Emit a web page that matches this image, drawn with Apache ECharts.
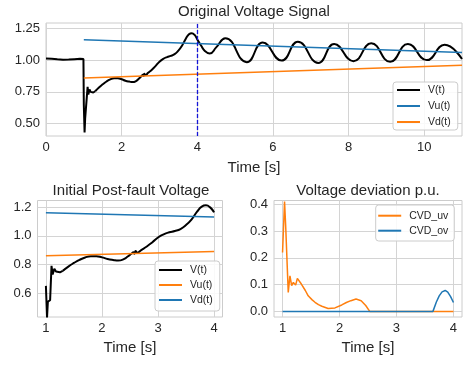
<!DOCTYPE html>
<html><head><meta charset="utf-8">
<script src="https://cdn.jsdelivr.net/npm/echarts@6/dist/echarts.min.js"></script>
<style>html,body{margin:0;padding:0;background:#fff}#c{width:474px;height:367px}</style>
</head><body><div id="c"></div>
<script>
// ---- data ----
const faultT = [0, 0.15, 0.3, 0.45, 0.6, 0.75, 0.9, 0.99, 1.0, 1.02, 1.035, 1.055, 1.075, 1.09, 1.1, 1.12, 1.15, 1.18, 1.21, 1.25, 1.3];
const faultV = [1.012, 1.01, 1.006, 1.003, 1.004, 1.007, 1.01, 1.008, 0.65, 0.43, 0.54, 0.548, 0.55, 0.55, 0.79, 0.73, 0.77, 0.75, 0.762, 0.745, 0.755];
const postT = [1.3, 1.4, 1.5, 1.6, 1.7, 1.8, 1.9, 2.0, 2.1, 2.2, 2.29, 2.38, 2.46, 2.53, 2.56, 2.58, 2.6, 2.63, 2.7, 2.8, 2.9, 3.0, 3.1, 3.2, 3.3, 3.4, 3.5, 3.6, 3.7, 3.78, 3.855, 3.93, 4.0, 4.1, 4.2, 4.33, 4.5, 4.74, 5.31, 5.73, 6.23, 6.66, 7.2, 7.62, 8.13, 8.6, 9.1, 9.57, 10.07, 10.54, 11.0];
const postV = [0.755, 0.785, 0.81, 0.832, 0.848, 0.857, 0.857, 0.849, 0.838, 0.831, 0.827, 0.835, 0.855, 0.876, 0.885, 0.875, 0.893, 0.882, 0.9, 0.925, 0.955, 0.988, 1.01, 1.024, 1.033, 1.047, 1.075, 1.115, 1.17, 1.203, 1.212, 1.198, 1.163, 1.115, 1.072, 1.052, 1.1, 1.173, 0.984, 1.138, 0.996, 1.145, 0.978, 1.127, 0.992, 1.132, 0.987, 1.127, 1.0, 1.12, 1.008];
const boundT = [1, 11];
const vuTop = [1.16, 1.06];
const vdTop = [0.86, 0.96];
const zoomBoundT = [1, 4];
const vuZoom = [0.86, 0.89];   // orange, labelled Vu(t)
const vdZoom = [1.16, 1.13];   // blue, labelled Vd(t)
const cvdUvT = [1.0, 1.035, 1.055, 1.09, 1.1, 1.13, 1.16, 1.19, 1.23, 1.26, 1.33, 1.4, 1.45, 1.52, 1.57, 1.63, 1.69, 1.8, 1.92, 2.04, 2.12, 2.2, 2.29, 2.38, 2.46, 2.53, 2.58, 2.6, 2.62, 3.0, 3.5, 4.0];
const cvdUvV = [0.22, 0.41, 0.319, 0.313, 0.071, 0.133, 0.096, 0.108, 0.098, 0.123, 0.102, 0.078, 0.058, 0.043, 0.034, 0.025, 0.019, 0.011, 0.013, 0.024, 0.033, 0.04, 0.046, 0.04, 0.022, 0.0, 0.0, 0.006, 0.0, 0.0, 0.0, 0.0];
const cvdOvT = [1.0, 3.64, 3.7, 3.75, 3.8, 3.855, 3.9, 3.95, 4.0];
const cvdOvV = [0.0, 0.0, 0.035, 0.058, 0.073, 0.078, 0.072, 0.055, 0.033];
const markerX = [4];
const topXTicks = [0, 2, 4, 6, 8, 10];
const topYTicks = [0.5, 0.75, 1.0, 1.25];
const zoomXTicks = [1, 2, 3, 4];
const zoomYTicks = [0.6, 0.8, 1.0, 1.2];
const devYTicks = [0.0, 0.1, 0.2, 0.3, 0.4];

// ---- styling ----
const FONT = 'Liberation Sans, Arial, sans-serif';
const TXT = '#262626';
const GRIDC = '#d4d4d4';
const BLUE = '#1f77b4', ORANGE = '#ff7f0e';
const pairs = (xs, ys) => xs.map((x, i) => [x, ys[i]]);

function xAx(g, min, max, ticks, gap) {
  return {
    type: 'value', gridIndex: g, min: min, max: max,
    axisLine: { show: false },
    axisTick: { show: false, customValues: ticks },
    axisLabel: { customValues: ticks, color: TXT, fontSize: 13, fontFamily: FONT, margin: 5, formatter: v => String(v) },
    splitLine: { show: true, lineStyle: { color: GRIDC, width: 1 } },
    name: 'Time [s]', nameLocation: 'middle', nameGap: gap,
    nameTextStyle: { color: TXT, fontSize: 15, fontFamily: FONT }
  };
}
function yAx(g, min, max, ticks, dec) {
  return {
    type: 'value', gridIndex: g, min: min, max: max,
    axisLine: { show: false },
    axisTick: { show: false, customValues: ticks },
    axisLabel: { customValues: ticks, color: TXT, fontSize: 13, fontFamily: FONT, margin: 6, formatter: v => v.toFixed(dec) },
    splitLine: { show: true, lineStyle: { color: GRIDC, width: 1 } }
  };
}
function line(name, xi, data, color, width, smooth) {
  return {
    type: 'line', name: name, xAxisIndex: xi, yAxisIndex: xi, data: data,
    symbol: 'none', smooth: smooth || false, animation: false,
    lineStyle: { color: color, width: width }, itemStyle: { color: color }
  };
}
const legendBase = {
  orient: 'vertical', backgroundColor: 'rgba(255,255,255,0.85)', borderColor: '#cccccc',
  borderWidth: 1, borderRadius: 3, itemWidth: 23, itemHeight: 2, selectedMode: false, icon: 'rect',
  textStyle: { color: TXT, fontSize: 10.5, fontFamily: FONT, lineHeight: 12, padding: [0, 0, 0, 3] }
};

const inZoom = t => t >= 1 && t <= 4;
const faultZoom = pairs(faultT, faultV).filter(p => inZoom(p[0]));
const postZoom = pairs(postT, postV).filter(p => inZoom(p[0]));

const topV = line('V(t)', 0, pairs(postT, postV), '#000000', 2, 0.5);
topV.markLine = {
  silent: true, symbol: 'none', label: { show: false },
  lineStyle: { color: '#1515d8', width: 1.3, type: [4, 2] },
  data: markerX.map(x => ({ xAxis: x }))
};

const option = {
  backgroundColor: '#ffffff',
  animation: false,
  title: [
    { text: 'Original Voltage Signal', left: 254, top: 4, textAlign: 'center', padding: 0,
      textStyle: { color: TXT, fontSize: 15, fontWeight: 'normal', fontFamily: FONT } },
    { text: 'Initial Post-fault Voltage', left: 131, top: 183.5, textAlign: 'center', padding: 0,
      textStyle: { color: TXT, fontSize: 15, fontWeight: 'normal', fontFamily: FONT } },
    { text: 'Voltage deviation p.u.', left: 368, top: 183.5, textAlign: 'center', padding: 0,
      textStyle: { color: TXT, fontSize: 15, fontWeight: 'normal', fontFamily: FONT } }
  ],
  grid: [
    { left: 46, top: 23, width: 416, height: 113, show: true, borderColor: '#cccccc', borderWidth: 1 },
    { left: 37.5, top: 200.5, width: 185, height: 116.5, show: true, borderColor: '#cccccc', borderWidth: 1 },
    { left: 274, top: 200.5, width: 188, height: 116.5, show: true, borderColor: '#cccccc', borderWidth: 1 }
  ],
  xAxis: [xAx(0, 0, 11, topXTicks, 24), xAx(1, 0.85, 4.15, zoomXTicks, 23), xAx(2, 0.85, 4.15, zoomXTicks, 23)],
  yAxis: [yAx(0, 0.403, 1.292, topYTicks, 2), yAx(1, 0.433, 1.246, zoomYTicks, 1), yAx(2, -0.021, 0.414, devYTicks, 1)],
  legend: [
    Object.assign({}, legendBase, { data: ['V(t)', 'Vu(t)', 'Vd(t)'], left: 393, top: 82, itemGap: 4, padding: [2, 7, 2, 4] }),
    Object.assign({}, legendBase, { data: ['V(t)#2', 'Vu(t)#2', 'Vd(t)#2'], left: 155, top: 261, itemGap: 3, padding: [3, 7, 5, 4],
      formatter: n => n.split('#')[0] }),
    Object.assign({}, legendBase, { data: ['CVD_uv', 'CVD_ov'], left: 375.7, top: 205, itemGap: 3, padding: [4.7, 6, 4.3, 2.5] })
  ],
  series: [
    line('V(t)', 0, pairs(faultT, faultV), '#000000', 2),
    topV,
    line('Vu(t)', 0, pairs(boundT, vuTop), BLUE, 1.5),
    line('Vd(t)', 0, pairs(boundT, vdTop), ORANGE, 1.5),
    line('V(t)#2', 1, faultZoom, '#000000', 2),
    line('V(t)#2', 1, postZoom, '#000000', 2, 0.5),
    line('Vu(t)#2', 1, pairs(zoomBoundT, vuZoom), ORANGE, 1.5),
    line('Vd(t)#2', 1, pairs(zoomBoundT, vdZoom), BLUE, 1.5),
    line('CVD_uv', 2, pairs(cvdUvT, cvdUvV), ORANGE, 1.5),
    line('CVD_ov', 2, pairs(cvdOvT, cvdOvV), BLUE, 1.5)
  ]
};
const chart = echarts.init(document.getElementById('c'), null, { renderer: 'canvas' });
chart.setOption(option);
</script></body></html>
